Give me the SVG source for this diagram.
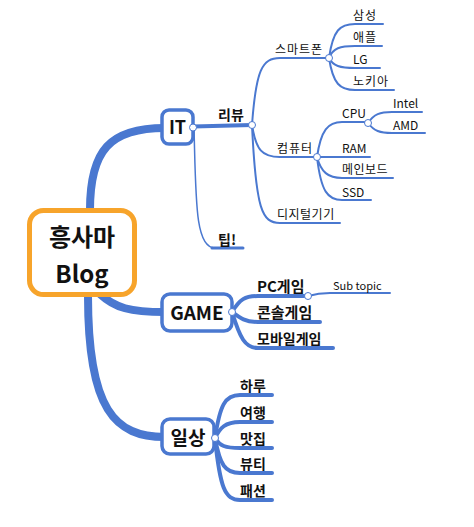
<svg xmlns="http://www.w3.org/2000/svg" width="474" height="527" viewBox="0 0 474 527">
<style>
text{font-family:"Noto Sans CJK KR","Noto Sans",sans-serif;fill:#111}
.b{font-weight:bold}
.main{fill:none;stroke:#4a78d0;stroke-width:8;stroke-linecap:round}
.l4{fill:none;stroke:#4a78d0;stroke-width:4;stroke-linecap:round}
.l2{fill:none;stroke:#4a78d0;stroke-width:2;stroke-linecap:round}
.l1{fill:none;stroke:#4a78d0;stroke-width:1.5}
.node{fill:#fff;stroke:#4a78d0;stroke-width:3.5}
.dot{fill:#fff;stroke:#4a78d0;stroke-width:1}
</style>
<rect width="474" height="527" fill="#fff"/>
<g id="connectors">
<path class="main" d="M90 210 C90 150 110 128 165 128"/>
<path class="main" d="M100 294 C115 308 130 312 165 312"/>
<path class="main" d="M88 296 C88 410 115 437 165 437"/>
<path class="l4" d="M193 126.5 L252 125"/>
<path class="l1" d="M194 128 C196 200 195 248 215 248"/>
<path class="l4" d="M212 248 L243 248" style="stroke-width:3"/>
<path class="l2" d="M252 125 C256 70 262 58 280 58 L329 58"/>
<path class="l2" d="M252 125 C256 150 262 157 280 157 L317 157"/>
<path class="l2" d="M252 125 C256 210 262 223 280 223 L340 223"/>
<path class="l2" d="M329 58 C333 30 340 24 355 24 L383 24"/>
<path class="l2" d="M329 58 C333 48 340 46 355 46 L382 46"/>
<path class="l2" d="M329 58 C333 66 340 68 355 68 L380 68"/>
<path class="l2" d="M329 58 C333 84 340 90 355 90 L394 90"/>
<path class="l2" d="M317 157 C321 130 328 122 342 122 L368 122"/>
<path class="l2" d="M317 157 L370 157"/>
<path class="l2" d="M317 157 C321 172 328 178 342 178 L393 178"/>
<path class="l2" d="M317 157 C321 192 328 200 342 200 L371 200"/>
<path class="l2" d="M368 123 C374 114 380 112 392 112 L422 112"/>
<path class="l2" d="M368 123 C374 131 380 133 392 133 L425 133"/>
<path class="l4" d="M232 312 C240 299 245 296 258 296 L308 296"/>
<path class="l4" d="M232 312 C240 318 245 322 258 322 L320 322"/>
<path class="l4" d="M232 312 C240 338 245 348 258 348 L333 348"/>
<path class="l2" d="M308 296 C315 294 320 293 330 293 L390 293"/>
<path class="l4" d="M215 438 C220 405 225 395 240 395 L272 395"/>
<path class="l4" d="M215 438 C220 428 225 422 240 422 L272 422"/>
<path class="l4" d="M215 438 C220 446 225 448 240 448 L272 448"/>
<path class="l4" d="M215 438 C220 465 225 473 240 473 L272 473"/>
<path class="l4" d="M215 438 C220 488 225 500 240 500 L272 500"/>
</g>
<g id="center">
<rect x="29.5" y="210.5" width="105" height="84" rx="14" fill="#fff" stroke="#F7A42B" stroke-width="5"/>
<text x="82" y="246" text-anchor="middle" font-size="24" class="b">흥사마</text>
<text x="82" y="283" text-anchor="middle" font-size="24" class="b">Blog</text>
</g>
<g id="it">
<rect class="node" x="162" y="110" width="31" height="34" rx="7"/>
<text x="177.5" y="134" text-anchor="middle" font-size="18" class="b">IT</text>
<circle class="dot" cx="193" cy="127.5" r="3.5"/>
</g>
<g id="game">
<rect class="node" x="162" y="294" width="70" height="37" rx="8"/>
<text x="197" y="320" text-anchor="middle" font-size="19" class="b">GAME</text>
<circle class="dot" cx="232" cy="312" r="3.5"/>
</g>
<g id="daily">
<rect class="node" x="162" y="419" width="52" height="35" rx="8"/>
<text x="188" y="445" text-anchor="middle" font-size="19" class="b">일상</text>
<circle class="dot" cx="215" cy="438" r="3.5"/>
</g>
<g id="review"><text x="218" y="120" font-size="14" class="b">리뷰</text><circle class="dot" cx="252" cy="125" r="3.5"/></g>
<g id="tip"><text x="218" y="245" font-size="14" class="b">팁!</text></g>
<g id="smartphone"><text x="275" y="54" font-size="12" letter-spacing="1">스마트폰</text><circle class="dot" cx="329" cy="58" r="3.5"/></g>
<g id="samsung"><text x="353" y="20" font-size="12" letter-spacing="1">삼성</text></g>
<g id="apple"><text x="353" y="42" font-size="12" letter-spacing="1">애플</text></g>
<g id="lg"><text x="353" y="64" font-size="12">LG</text></g>
<g id="nokia"><text x="353" y="86" font-size="12" letter-spacing="1">노키아</text></g>
<g id="computer"><text x="277" y="153" font-size="12" letter-spacing="1">컴퓨터</text><circle class="dot" cx="317" cy="157" r="3.5"/></g>
<g id="cpu"><text x="342" y="118" font-size="12">CPU</text><circle class="dot" cx="368" cy="123" r="3.5"/></g>
<g id="intel"><text x="393" y="108" font-size="12">Intel</text></g>
<g id="amd"><text x="393" y="130" font-size="12">AMD</text></g>
<g id="ram"><text x="342" y="153" font-size="12">RAM</text></g>
<g id="mainboard"><text x="342" y="174" font-size="12" letter-spacing="0.5">메인보드</text></g>
<g id="ssd"><text x="342" y="197" font-size="12">SSD</text></g>
<g id="digital"><text x="277" y="219" font-size="12" letter-spacing="0.5">디지털기기</text></g>
<g id="pcgame"><text x="257" y="292" font-size="15" class="b">PC게임</text><circle class="dot" cx="308" cy="296" r="3.5"/></g>
<g id="subtopic"><text x="333" y="290" font-size="11">Sub topic</text></g>
<g id="console"><text x="257" y="318" font-size="15" class="b">콘솔게임</text></g>
<g id="mobile"><text x="257" y="344" font-size="14" class="b">모바일게임</text></g>
<g id="haru"><text x="240" y="391" font-size="14" class="b">하루</text></g>
<g id="travel"><text x="240" y="418" font-size="14" class="b">여행</text></g>
<g id="food"><text x="240" y="444" font-size="14" class="b">맛집</text></g>
<g id="beauty"><text x="240" y="469" font-size="14" class="b">뷰티</text></g>
<g id="fashion"><text x="240" y="496" font-size="14" class="b">패션</text></g>
</svg>
